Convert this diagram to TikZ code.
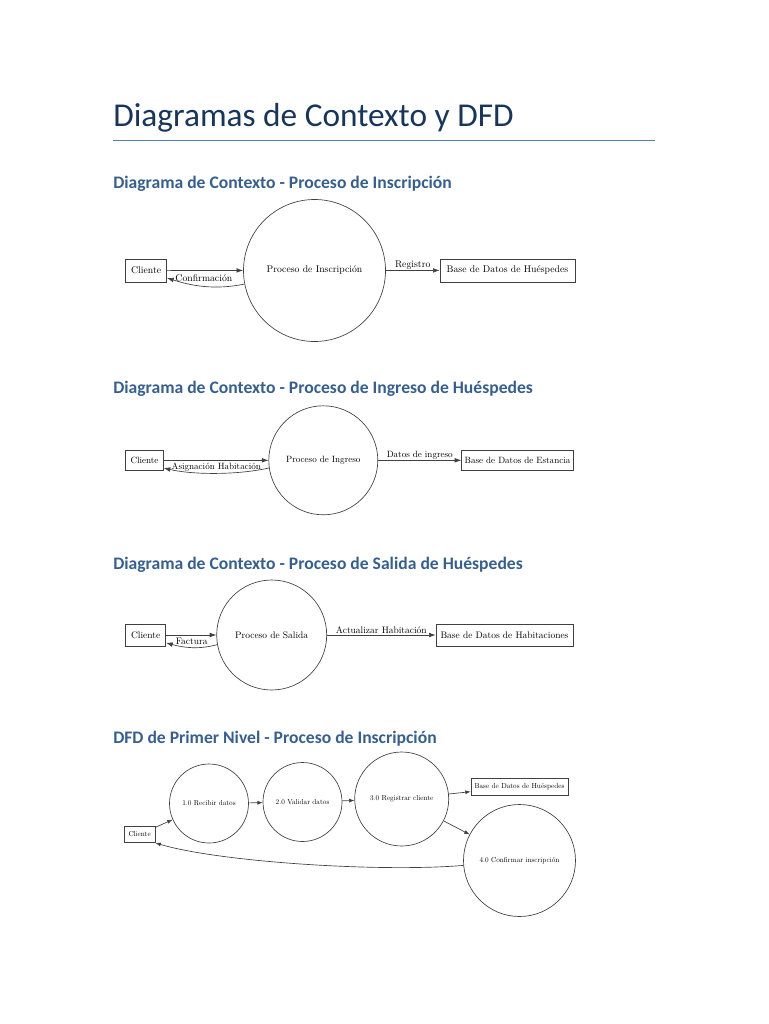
\documentclass[tikz,border=0pt]{standalone}
\usepackage{fontspec}
\newfontfamily\headfont{Carlito}
\newfontfamily\dfdfont{lmroman10-regular}[Extension=.otf]
\usetikzlibrary{arrows.meta}
\definecolor{titleblue}{HTML}{17365D}
\definecolor{ruleblue}{HTML}{4F81BD}
\definecolor{headblue}{HTML}{365F91}

\begin{document}
\begin{tikzpicture}[x=0.75pt,y=-0.75pt,
        heading/.style={anchor=base west,inner sep=0pt,text=headblue,
            font=\headfont\bfseries\fontsize{13.2}{15}\selectfont},
        proc/.style={draw=black!75,line width=0.5pt,circle,inner sep=0pt},
        ent/.style={draw=black!75,line width=0.5pt,rectangle,inner sep=0pt},
        flow/.style={draw=black!75,line width=0.5pt,-{Latex[length=5pt,width=3.5pt]}},
        lbl/.style={inner sep=0.5pt}]
        \useasboundingbox (0,0) rectangle (768,1024);
        \node[anchor=base west,inner sep=0pt,text=titleblue,
            font=\headfont\fontsize{25}{30}\selectfont] (title) at (113,126) {Diagramas de Contexto y DFD};
        \draw[ruleblue,line width=0.75pt] (113,140) -- (655,140);

        % contexto - inscripcion
        \node[heading] (h1) at (113,188) {Diagrama de Contexto - Proceso de Inscripción};
        \begin{scope}[every node/.append style={font=\dfdfont\fontsize{7.3}{8}\selectfont}]
            \node[ent,minimum width=30.75pt,minimum height=17.25pt] (cli1) at (146.2,270.4) {Cliente};
            \node[proc,minimum size=106.5pt] (ins) at (314.5,270.5) {Proceso de Inscripción};
            \node[ent,minimum width=101.25pt,minimum height=17.25pt] (bdh1) at (507.5,270.4) {Base de Datos de Huéspedes};
            \draw[flow] (cli1) -- (ins);
            \draw[flow] (ins.191) .. controls +(-30,6) and +(25,8) .. node[lbl,above=3pt,pos=0.5] {Confirmación} (cli1.-20);
            \draw[flow] (ins) -- node[lbl,above] {Registro} (bdh1);
        \end{scope}

        % contexto - ingreso
        \node[heading] (h2) at (113,393) {Diagrama de Contexto - Proceso de Ingreso de Huéspedes};
        \begin{scope}[every node/.append style={font=\dfdfont\fontsize{6.8}{8}\selectfont}]
            \node[ent,minimum width=28.2pt,minimum height=15.5pt] (cli2) at (144.5,460.3) {Cliente};
            \node[proc,minimum size=81.75pt] (ing) at (323.3,460.3) {Proceso de Ingreso};
            \node[ent,minimum width=83.7pt,minimum height=15.5pt] (bde) at (517.5,460.3) {Base de Datos de Estancia};
            \draw[flow] (cli2) -- (ing);
            \draw[flow] (ing.188.5) .. controls +(-30,7) and +(30,7) .. node[lbl,above=1pt,pos=0.5] {Asignación Habitación} (cli2.-22.6);
            \draw[flow] (ing) -- node[lbl,above] {Datos de ingreso} (bde);
        \end{scope}

        % contexto - salida
        \node[heading] (h3) at (113,569) {Diagrama de Contexto - Proceso de Salida de Huéspedes};
        \begin{scope}[every node/.append style={font=\dfdfont\fontsize{7.1}{8}\selectfont}]
            \node[ent,minimum width=30pt,minimum height=16.5pt] (cli3) at (145.7,635) {Cliente};
            \node[proc,minimum size=82.5pt] (sal) at (271.7,635) {Proceso de Salida};
            \node[ent,minimum width=102.75pt,minimum height=16.5pt] (bdhab) at (504.5,635) {Base de Datos de Habitaciones};
            \draw[flow] (cli3) -- (sal);
            \draw[flow] (sal.190.5) .. controls +(-18,5) and +(18,5) .. node[lbl,above=1.5pt,pos=0.5] {Factura} (cli3.-21.8);
            \draw[flow] (sal) -- node[lbl,above] {Actualizar Habitación} (bdhab);
        \end{scope}

        % dfd primer nivel
        \node[heading] (h4) at (113,743) {DFD de Primer Nivel - Proceso de Inscripción};
        \begin{scope}[every node/.append style={font=\dfdfont\fontsize{5.4}{6}\selectfont},
            flow/.append style={-{Latex[length=4pt,width=3pt]}}]
            \node[ent,minimum width=23.25pt,minimum height=12.5pt] (cli4) at (139.6,834.3) {Cliente};
            \node[proc,minimum size=59.25pt] (rec) at (209,803.5) {1.0 Recibir datos};
            \node[proc,minimum size=59.25pt] (val) at (302.5,802) {2.0 Validar datos};
            \node[proc,minimum size=70.5pt] (reg) at (401.7,799) {3.0 Registrar cliente};
            \node[ent,minimum width=72.75pt,minimum height=12.75pt] (bdh4) at (519.5,786.5) {Base de Datos de Huéspedes};
            \node[proc,minimum size=84pt] (con) at (519.5,860.5) {4.0 Confirmar inscripción};
            \draw[flow] (cli4) -- (rec);
            \draw[flow] (rec) -- (val);
            \draw[flow] (val) -- (reg);
            \draw[flow] (reg) -- (bdh4);
            \draw[flow] (reg) -- (con);
            \draw[flow] (con.185) .. controls +(-84,7) and +(64,19) .. (cli4.south east);
        \end{scope}
    \end{tikzpicture}
\end{document}
